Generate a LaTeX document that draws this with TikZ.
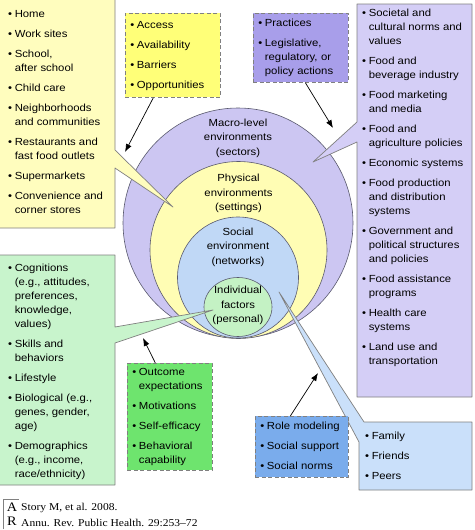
\documentclass[tikz,border=0pt]{standalone}
\usepackage{fontspec}
\setmainfont{Liberation Sans}[FakeStretch=1.1]
\newfontfamily\citefont{Liberation Serif}[FakeStretch=1.1, Ligatures=TeX]
\usetikzlibrary{arrows.meta}
\usetikzlibrary{positioning}
\usetikzlibrary{shapes.geometric}

\definecolor{settingsfill}{RGB}{255,253,190}
\definecolor{physfill}{RGB}{255,253,180}
\definecolor{accessfill}{RGB}{255,255,120}
\definecolor{macrofill}{RGB}{204,198,242}
\definecolor{sectorfill}{RGB}{212,206,246}
\definecolor{practicefill}{RGB}{168,158,234}
\definecolor{socialfill}{RGB}{192,216,246}
\definecolor{networkfill}{RGB}{202,224,250}
\definecolor{rolefill}{RGB}{122,172,236}
\definecolor{personalfill}{RGB}{200,244,204}
\definecolor{individfill}{RGB}{196,242,196}
\definecolor{outcomefill}{RGB}{110,228,110}
\definecolor{boxline}{RGB}{128,128,128}
\definecolor{ringline}{RGB}{90,90,110}

\newcommand{\listfont}{\fontsize{10.3}{14}\selectfont}
\newcommand{\ringfont}{\fontsize{10.3}{14.5}\selectfont}
\newcommand{\blist}[1]{\begin{tabular}{@{}l@{\hspace{2.6pt}}l@{}}#1\end{tabular}}
\newcommand{\bl}{\textbullet &}
\newcommand{\gap}{\\[6pt]}

\tikzset{
  box/.style={draw=boxline, line width=0.7pt, line join=round},
  dashbox/.style={box, dash pattern=on 4pt off 2.5pt, anchor=north west, inner xsep=5pt, inner ysep=0pt, align=left, font=\listfont},
  listtext/.style={anchor=north west, inner sep=0pt, font=\listfont},
  ring/.style={circle, draw=ringline, line width=0.6pt},
  ringtext/.style={align=center, inner sep=0pt, font=\ringfont},
  pointer/.style={-{Latex[length=8pt, width=6pt]}, line width=0.7pt},
  citetext/.style={anchor=west, inner sep=0pt, font=\citefont\fontsize{10.5}{12}\selectfont},
  logotext/.style={inner sep=0pt, font=\citefont\fontsize{13}{13}\selectfont}
}

\begin{document}
\begin{tikzpicture}[x=1pt, y=-1pt]
      \useasboundingbox (0,0) rectangle (474,530);
      \fill[white] (0,0) rectangle (474,530);

      \node[ring, fill=macrofill, minimum size=230pt] (macro) at (238,223) {};
      \node[ring, fill=physfill, minimum size=177pt] (physical) at (238.5,250) {};
      \node[ring, fill=socialfill, minimum size=121pt] (social) at (238,277.5) {};
      \node[ring, ellipse, fill=individfill, minimum width=68pt, minimum height=59pt] (individual) at (238,307) {};

      \node[ringtext, below=11pt of macro.north] (macrotext) {Macro-level\\environments\\(sectors)};
      \node[ringtext, below=13pt of physical.north] (physicaltext) {Physical\\environments\\(settings)};
      \node[ringtext, below=11pt of social.north] (socialtext) {Social\\environment\\(networks)};
      \node[ringtext, below=9pt of individual.north] (individualtext) {Individual\\factors\\(personal)};

      \draw[box, fill=settingsfill] (-2,-2) -- (115,-2) -- (115,150) -- (173,207) -- (115,168) -- (115,228) -- (-2,228) -- cycle;
      \node[listtext] (settings) at (8,7) {\blist{\bl Home\gap \bl Work sites\gap \bl School,\\ & after school\gap \bl Child care\gap \bl Neighborhoods\\ & and communities\gap \bl Restaurants and\\ & fast food outlets\gap \bl Supermarkets\gap \bl Convenience and\\ & corner stores}};

      \draw[box, fill=sectorfill] (357,4) -- (472,4) -- (472,397) -- (357,397) -- (357,142) -- (313,162) -- (357,122) -- cycle;
      \node[listtext] (sectors) at (362,6) {\blist{\bl Societal and\\ & cultural norms and\\ & values\gap \bl Food and\\ & beverage industry\gap \bl Food marketing\\ & and media\gap \bl Food and\\ & agriculture policies\gap \bl Economic systems\gap \bl Food production\\ & and distribution\\ & systems\gap \bl Government and\\ & political structures\\ & and policies\gap \bl Food assistance\\ & programs\gap \bl Health care\\ & systems\gap \bl Land use and\\ & transportation}};

      \draw[box, fill=personalfill] (-2,255) -- (115,255) -- (115,327) -- (213,310) -- (115,343) -- (115,485) -- (-2,485) -- cycle;
      \node[listtext] (personal) at (8,261) {\blist{\bl Cognitions\\ & (e.g., attitudes,\\ & preferences,\\ & knowledge,\\ & values)\gap \bl Skills and\\ & behaviors\gap \bl Lifestyle\gap \bl Biological (e.g.,\\ & genes, gender,\\ & age)\gap \bl Demographics\\ & (e.g., income,\\ & race/ethnicity)}};

      \draw[box, fill=networkfill] (359,490) -- (359,442) -- (279,292) -- (364,422) -- (472,422) -- (472,490) -- cycle;
      \node[listtext] (networks) at (365,429) {\blist{\bl Family\gap \bl Friends\gap \bl Peers}};

      \node[dashbox, fill=accessfill, text width=85pt, minimum height=84pt] (access) at (125,13) {\blist{\bl Access\gap \bl Availability\gap \bl Barriers\gap \bl Opportunities}};
      \node[dashbox, fill=practicefill, text width=85pt, minimum height=69pt] (practices) at (253,13) {\blist{\bl Practices\gap \bl Legislative,\\ & regulatory, or\\ & policy actions}};
      \node[dashbox, fill=outcomefill, text width=75pt, minimum height=107pt] (outcome) at (127,363) {\blist{\bl Outcome\\ & expectations\gap \bl Motivations\gap \bl Self-efficacy\gap \bl Behavioral\\ & capability}};
      \node[dashbox, fill=rolefill, text width=83pt, minimum height=61pt] (role) at (255,416) {\blist{\bl Role modeling\gap \bl Social support\gap \bl Social norms}};

      \coordinate (accesstip) at (125,152);
      \coordinate (practicestip) at (333,128);
      \coordinate (outcometip) at (143,338);
      \coordinate (roletip) at (318,373);
      \draw[pointer] ([xshift=-19.5pt]access.south) -- (accesstip);
      \draw[pointer] ([xshift=4.5pt]practices.south) -- (practicestip);
      \draw[pointer] ([xshift=-14.5pt]outcome.north) -- (outcometip);
      \draw[pointer] ([xshift=-11.5pt]role.north) -- (roletip);

      \draw[boxline, line width=0.5pt] (3,529) -- (3,499) -- (19,499);
      \node[logotext] (logoA) at (12,507) {A};
      \node[logotext] (logoR) at (12,521) {R};
      \node[citetext] (citeyear) at (21,508) {Story M, et al. 2008.};
      \node[citetext] (citejournal) at (21,523) {Annu. Rev. Public Health. 29:253–72};
\end{tikzpicture}
\end{document}
